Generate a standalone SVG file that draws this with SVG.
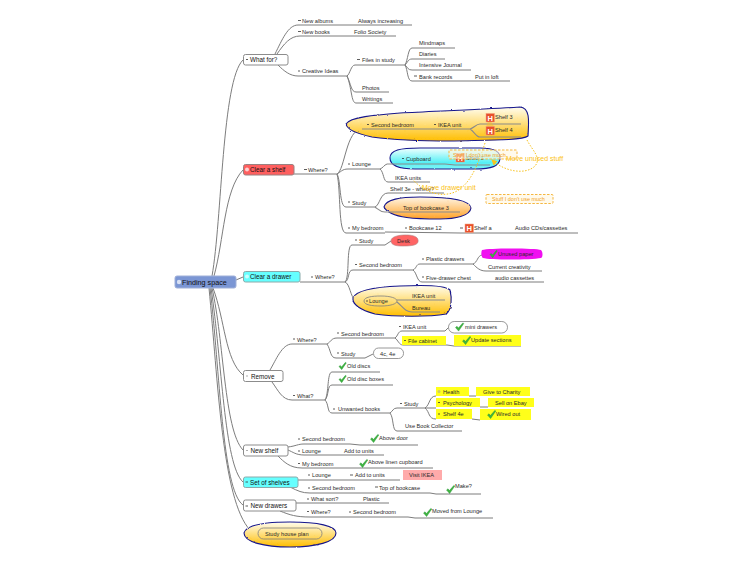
<svg xmlns="http://www.w3.org/2000/svg" width="750" height="563" viewBox="0 0 750 563">
<style>
text{font-family:"Liberation Sans",Arial,sans-serif;font-size:5.65px;fill:#2a2a2a}
.b{font-size:6.3px;fill:#111}
.r{font-size:7.2px;fill:#111}
.g{font-size:7px;fill:#fbbf14}
.o{font-size:5.5px;fill:#f2a31e}
.c path,.c line{fill:none;stroke:#7d7d7d;stroke-width:1}
path.k{fill:none;stroke:#8a8a8a;stroke-width:1.1}
.box{stroke:#8c8c8c;stroke-width:1}
.w{fill:#fff}
.y{fill:#ffff1a}
.bl{stroke:#16168c;stroke-width:1.1;filter:url(#wob)}
.ov{fill:none;stroke:#7f7f7f;stroke-width:.8}
.d{stroke:#333;stroke-width:.8}
.dot{fill:none;stroke:#f7c21e;stroke-width:1;stroke-dasharray:1.5 1.5}
.ds{fill:#fff6e0;fill-opacity:.6;stroke:#f5b740;stroke-width:1;stroke-dasharray:2.5 1.5}
</style>
<defs>
<filter id="wob" x="-5%" y="-15%" width="110%" height="130%"><feTurbulence type="fractalNoise" baseFrequency=".3" numOctaves="1" seed="4"/><feDisplacementMap in="SourceGraphic" scale="2.2" xChannelSelector="R" yChannelSelector="G"/></filter>
<linearGradient id="gy" x1="0" y1="0" x2="0" y2="1"><stop offset="0" stop-color="#fffdf0"/><stop offset="1" stop-color="#ffbe00"/></linearGradient>
<linearGradient id="go" x1="0" y1="0" x2="0" y2="1"><stop offset="0" stop-color="#fff6e6"/><stop offset="1" stop-color="#ffa228"/></linearGradient>
<linearGradient id="gc" x1="0" y1="0" x2="0" y2="1"><stop offset="0" stop-color="#f2ffff"/><stop offset=".7" stop-color="#55f0f5"/><stop offset="1" stop-color="#80f5f5"/></linearGradient>
<symbol id="chk" viewBox="0 0 9 9" overflow="visible"><path d="M.5 5 L2 3.8 L3.4 5.6 L7.8 .4 L8.8 1 L3.6 8.6 Z" fill="#3fb53f" stroke="#1f8a2f" stroke-width=".4"/></symbol>
<g id="hic"><rect width="8.5" height="8.5" fill="#e8502a" stroke="#f4a080" stroke-width=".5"/><text x="4.25" y="7" text-anchor="middle" style="font-size:7.5px;font-weight:bold;fill:#fff">H</text></g>
<marker id="ah" markerWidth="10" markerHeight="10" refX="5" refY="3" orient="auto"><path d="M0 0L6 3L0 6Z" fill="#f7c21e"/></marker>
</defs>

<g id="connectors" class="c">
<path d="M212 276C222 220 222 80 243 60"/>
<path d="M214 276C224 240 224 190 243 170"/>
<path d="M236 280L243 277"/>
<path d="M213 288C225 320 225 360 243 375"/>
<path d="M212 288C224 340 224 430 243 450"/>
<path d="M211 288C222 360 224 465 243 482"/>
<path d="M210 288C220 370 222 490 243 505"/>
<path d="M209 288C218 380 222 500 250 530"/>

<path d="M275 54C282 40 288 25 298 25H412"/>
<path d="M277 54C284 44 290 36 300 36H396"/>
<path d="M278 65C284 71 290 76 298 76H347"/>
<path d="M347 76C350 74 351 65 355 65H405"/>
<path d="M347 76C351 84 351 92 356 92H389"/>
<path d="M347 76C352 88 351 103 356 103H393"/>
<path d="M405 65C408 60 408 48 412 48H455"/>
<path d="M405 65C408 62 408 59 412 59H445"/>
<path d="M405 65C408 68 408 70 412 70H471"/>
<path d="M405 65C408 70 407 81 412 81H510"/>

<path d="M294 174H337"/>
<path d="M337 174C345 170 346 129 362 129"/>
<path d="M337 174C341 172 342 169 348 169H380"/>
<path d="M337 174C341 180 339 207 346 207H375"/>
<path d="M337 174C341 190 338 233 346 233H385"/>
<path d="M385 232L460 233H578"/>
<path d="M380 169C384 172 383 182 388 182H430"/>
<path d="M375 207C380 205 380 193 388 193H444"/>
<path d="M380 169C383 168 384 165 387 164"/>

<path d="M300 282H345"/>
<path d="M345 282C350 278 346 245 352 245H385L391 241"/>
<path d="M345 282C350 280 347 270 353 270H413"/>
<path d="M345 282C350 284 350 296 356 302"/>
<path d="M413 270C417 268 416 264 420 264H473C478 262 477 256 482 255"/>
<path d="M473 264C477 268 480 271 486 271H542"/>
<path d="M413 270C417 273 417 282 422 282H544"/>

<path d="M270 370C276 360 282 344 292 344H327"/>
<path d="M272 382C278 390 282 400 292 400H325"/>
<path d="M327 344C331 342 331 338 337 338H395"/>
<path d="M327 344C331 350 330 358 336 358H365L373 354"/>
<path d="M325 400C329 394 327 372 332 372H380"/>
<path d="M325 400C329 396 327 385 332 385H393"/>
<path d="M325 400C329 404 327 413 332 413H390"/>
<path d="M395 338C398 336 398 331 402 331H445L449 327"/>
<path d="M395 338C398 340 399 345 403 345H447L454 346H521"/>
<path d="M390 413C393 411 393 408 397 408H425"/>
<path d="M390 413C394 418 392 431 397 431H462"/>
<path d="M425 408C430 405 429 396 436 396"/>
<path d="M425 408H436"/>
<path d="M425 408C430 412 428 419 436 419"/>
<path d="M469 396H476"/><path d="M480 407H488"/><path d="M472 419L480 420"/>

<path d="M288 447C296 446 298 444 304 444H350L360 445H418"/>
<path d="M288 450C293 452 296 455 304 455H384"/>
<path d="M278 456C284 462 290 468 302 468H433"/>
<path d="M298 480H400"/>
<path d="M290 487C298 491 302 493 310 493H430L436 494H481"/>
<path d="M296 503H389"/>
<path d="M280 511C290 515 296 517 310 517H408L415 518H493"/>
</g>

<g id="node-root"><rect x="175" y="276" width="61" height="12" rx="2" fill="#7b96d4" stroke="#a0b0d8"/><circle cx="179" cy="282" r="2.2" fill="#d8e0f4"/><text class="r" x="182" y="284.500">Finding space</text></g>
<g id="node-whatfor"><rect class="box w" x="243.500" y="54.500" width="44.500" height="10.500" rx="2"/><line class="d" x1="246" y1="59.500" x2="248" y2="59.500"/><text class="b" x="250" y="62">What for?</text></g>
<g id="node-albums"><line class="d" x1="298" y1="20.500" x2="301" y2="20.500"/><text x="302" y="22.500">New albums</text><text x="358" y="22.500">Always increasing</text></g>
<g id="node-books"><line class="d" x1="298" y1="31.500" x2="301" y2="31.500"/><text x="302" y="33.500">New books</text><text x="354" y="33.500">Folio Society</text></g>
<g id="node-ideas"><line class="d" x1="298" y1="71" x2="300" y2="71"/><text x="302" y="73">Creative Ideas</text></g>
<g id="node-files"><line class="d" x1="357" y1="59.500" x2="360" y2="59.500"/><text x="362" y="62">Files in study</text></g>
<g id="node-photos"><text x="362" y="89.500">Photos</text></g>
<g id="node-writings"><text x="362" y="101">Writings</text></g>
<g id="node-mindmaps"><text x="419" y="45">Mindmaps</text></g>
<g id="node-diaries"><text x="419" y="56">Diaries</text></g>
<g id="node-journal"><text x="419" y="67">Intensive Journal</text></g>
<g id="node-bank"><line class="d" x1="414" y1="76" x2="417" y2="76"/><text x="419" y="78.500">Bank records</text><text x="475" y="78.500">Put in loft</text></g>

<g id="node-shelf"><rect x="243.500" y="164.500" width="50.500" height="10.500" rx="2" fill="#ff5f5f" stroke="#9a8080"/><circle cx="247" cy="169.500" r="2" fill="#ffd0d0"/><text class="b" x="250" y="172">Clear a shelf</text></g>
<g id="node-where1"><line class="d" x1="304" y1="169.500" x2="307" y2="169.500"/><text x="308" y="171.500">Where?</text></g>

<g id="blob-second">
<path class="bl" fill="url(#gy)" d="M346 124C350 117 375 115 400 113C440 111 490 109 520 107C530 108 529 120 528 136C522 141 480 140 450 141C420 141 395 140 372 137C358 134 347 130 346 124Z"/>
<path class="k" d="M362 129H470M470 129C474 128 476 124 480 124H521M470 129C474 131 476 137 480 137H521"/>
<line class="d" x1="367" y1="124.500" x2="369" y2="124.500"/><text x="371" y="126.500">Second bedroom</text>
<line class="d" x1="434" y1="124.500" x2="436" y2="124.500"/><text x="438" y="126.500">IKEA unit</text>
<path d="M489 118L496 130L484 134Z" fill="#f5bd2a" fill-opacity=".5"/>
<use href="#hic" x="486" y="113.500"/><text x="495" y="119">Shelf 3</text>
<use href="#hic" x="486" y="126.500"/><text x="495" y="132">Shelf 4</text>
</g>
<g id="node-lounge"><line class="d" x1="348" y1="164" x2="350" y2="164"/><text x="352" y="166">Lounge</text></g>
<g id="blob-cupboard">
<path class="bl" fill="url(#gc)" d="M390 158C390 150 400 148 420 148H480C495 148 501 152 500 159C499 166 492 169 475 169H415C398 169 390 165 390 158Z"/>
<path class="k" d="M387 164H445L455 165H490"/>
<line class="d" x1="402" y1="158.500" x2="404" y2="158.500"/><text x="406" y="160.500">Cupboard</text>
<use href="#hic" x="456" y="153.500"/><text x="466" y="160">Shelf 1</text>
</g>
<g id="node-ikeaunits"><text x="395" y="179.500">IKEA units</text></g>
<g id="node-study"><line class="d" x1="348" y1="202" x2="350" y2="202"/><text x="352" y="204.500">Study</text></g>
<g id="node-3e"><text x="390" y="190.500">Shelf 3e - where?</text></g>
<g id="blob-top">
<path class="bl" fill="url(#go)" d="M384 207C386 199 400 197 420 197C450 197 470 200 471 208C470 216 455 219 440 219C420 219 390 219 384 207Z"/>
<path class="k" d="M375 207C378 209 380 212 385 212H460"/>
<text x="403" y="209.500">Top of bookcase 3</text>
</g>
<g id="node-mybed"><line class="d" x1="348" y1="228" x2="350" y2="228"/><text x="352" y="230">My bedroom</text><line class="d" x1="405" y1="228" x2="407" y2="228"/><text x="409" y="230">Bookcase 12</text><line class="d" x1="460" y1="228" x2="463" y2="228"/><use href="#hic" x="465" y="224"/><text x="474" y="229.500">Shelf a</text><text x="515" y="230">Audio CDs/cassettes</text></g>

<g id="callouts">
<path class="dot" d="M527 140C532 150 542 158 535 166C526 175 505 172 492 160" marker-end="url(#ah)"/>
<path class="dot" d="M485 143C478 165 470 185 455 192C440 198 425 192 413 180"/>
<rect class="ds" x="449" y="150" width="68" height="9" rx="1"/><text class="o" x="453" y="156.500">Stuff I don't use much</text>
<rect class="ds" x="486" y="194.500" width="67" height="9" rx="1"/><text class="o" x="492" y="201">Stuff I don't use much</text>
<text class="g" x="506" y="160.500">Move unused stuff</text>
<text class="g" x="422" y="190">Move drawer unit</text>
</g>

<g id="node-drawer"><rect x="243.500" y="271.500" width="56.500" height="10.500" rx="2" fill="#66ffff" stroke="#8caaaa"/><circle cx="247" cy="276.500" r="2" fill="#c8ffff"/><text class="b" x="250" y="279">Clear a drawer</text></g>
<g id="node-where2"><line class="d" x1="311" y1="277" x2="313" y2="277"/><text x="315" y="279">Where?</text></g>
<g id="node-study2"><line class="d" x1="355" y1="240" x2="357" y2="240"/><text x="359" y="243">Study</text></g>
<g id="node-desk"><path d="M391 241C391 236 400 235 406 235C414 235 419 237 418 242C417 246 408 246 402 246C396 246 391 245 391 241Z" fill="#ff6464" stroke="#b08080" stroke-width=".6"/><text x="397" y="242.500">Desk</text></g>
<g id="node-sb2"><line class="d" x1="355" y1="264.500" x2="357" y2="264.500"/><text x="359" y="267">Second bedroom</text></g>
<g id="node-plastic"><line class="d" x1="422" y1="259" x2="424" y2="259"/><text x="426" y="261">Plastic drawers</text></g>
<g id="node-five"><line class="d" x1="422" y1="277" x2="424" y2="277"/><text x="426" y="279.500">Five-drawer chest</text><text x="495" y="279.500">audio cassettes</text></g>
<g id="node-unused"><path d="M482 250C490 248 535 248 541 250C543 252 543 257 541 258C530 260 490 260 483 258C481 256 481 252 482 250Z" fill="#f010f0"/><use href="#chk" x="489" y="250" width="9" height="8"/><text x="498" y="255.500">Unused paper</text></g>
<g id="node-current"><text x="488" y="268.500">Current creativity</text></g>
<g id="blob-lounge">
<path class="bl" fill="url(#gy)" d="M353 298C356 290 375 287 400 286C420 285 445 285 450 290C452 298 452 310 446 314C430 317 395 317 375 314C360 310 352 304 353 298Z"/>
<path class="ov" d="M364 301C364 297 372 296 381 296C390 296 397 298 397 301C397 304 390 306 381 306C372 306 364 305 364 301Z"/>
<path class="k" d="M397 300H445M397 302C403 307 405 312 412 312H440"/>
<line class="d" x1="366" y1="301" x2="368" y2="301"/><text x="369" y="303">Lounge</text>
<text x="412" y="298">IKEA unit</text><text x="412" y="309.500">Bureau</text>
</g>

<g id="node-remove"><rect class="box w" x="243.500" y="370.500" width="39.500" height="11" rx="2"/><line class="d" x1="246" y1="376" x2="248" y2="376" opacity=".5"/><text class="b" x="251" y="378.500">Remove</text></g>
<g id="node-where3"><line class="d" x1="293" y1="339" x2="295" y2="339"/><text x="297" y="341.500">Where?</text></g>
<g id="node-sb3"><line class="d" x1="337" y1="333" x2="339" y2="333"/><text x="341" y="335.500">Second bedroom</text></g>
<g id="node-study3"><line class="d" x1="337" y1="353" x2="339" y2="353"/><text x="341" y="355.500">Study</text></g>
<g id="node-4c"><rect x="373.500" y="348" width="30" height="10.500" rx="5" class="w" stroke="#7f7f7f" stroke-width=".8"/><text x="380" y="355.500">4c, 4e</text></g>
<g id="node-olddiscs"><use href="#chk" x="338" y="362" width="9" height="8"/><text x="347" y="367.500">Old discs</text></g>
<g id="node-oldboxes"><use href="#chk" x="338" y="375" width="9" height="8"/><text x="347" y="380.500">Old disc boxes</text></g>
<g id="node-what"><line class="d" x1="293" y1="395.500" x2="295" y2="395.500"/><text x="297" y="398">What?</text></g>
<g id="node-unwanted"><line class="d" x1="333" y1="409" x2="335" y2="409"/><text x="338" y="411">Unwanted books</text></g>
<g id="node-ikea3"><line class="d" x1="399" y1="326.500" x2="401" y2="326.500"/><text x="403" y="329">IKEA unit</text></g>
<g id="node-mini"><rect x="448.500" y="321.500" width="59" height="11.500" rx="5.700" class="w" stroke="#7f7f7f" stroke-width=".8"/><use href="#chk" x="455" y="322.500" width="9" height="9"/><text x="465" y="328.500">mini drawers</text></g>
<g id="node-file"><rect class="y" x="402" y="336" width="44" height="9"/><line class="d" x1="404" y1="340.500" x2="406" y2="340.500"/><text x="408" y="342.500">File cabinet</text></g>
<g id="node-update"><rect class="y" x="454" y="335" width="67" height="11"/><use href="#chk" x="462" y="336" width="9" height="9"/><text x="471" y="342">Update sections</text></g>
<g id="node-study4"><line class="d" x1="400" y1="403.500" x2="402" y2="403.500"/><text x="404" y="405.500">Study</text></g>
<g id="node-health"><rect class="y" x="436" y="387" width="33" height="9"/><circle cx="439" cy="391.500" r="1.500" fill="#cccc66"/><text x="443" y="393.500">Health</text></g>
<g id="node-give"><rect class="y" x="476" y="387" width="54" height="9"/><text x="483" y="393.500">Give to Charity</text></g>
<g id="node-psy"><rect class="y" x="436" y="398" width="44" height="9"/><line class="d" x1="438" y1="402.500" x2="440" y2="402.500"/><text x="443" y="404.500">Psychology</text></g>
<g id="node-sell"><rect class="y" x="488" y="398" width="46" height="9"/><text x="495" y="404.500">Sell on Ebay</text></g>
<g id="node-4e"><rect class="y" x="436" y="409" width="36" height="10"/><line class="d" x1="438" y1="414" x2="440" y2="414"/><text x="443" y="416">Shelf 4e</text></g>
<g id="node-wired"><rect class="y" x="480" y="409" width="51" height="11"/><use href="#chk" x="487" y="410" width="9" height="9"/><text x="496" y="415.500">Wired out</text></g>
<g id="node-collector"><text x="405" y="428">Use Book Collector</text></g>

<g id="node-newshelf"><rect class="box w" x="243.500" y="445" width="44.500" height="11" rx="2"/><line class="d" x1="246" y1="450.500" x2="248" y2="450.500" opacity=".5"/><text class="b" x="250.500" y="453">New shelf</text></g>
<g id="node-n1"><line class="d" x1="298" y1="439" x2="300" y2="439"/><text x="302" y="441">Second bedroom</text><use href="#chk" x="370" y="434" width="9" height="9"/><text x="379" y="440">Above door</text></g>
<g id="node-n2"><line class="d" x1="298" y1="451" x2="300" y2="451"/><text x="302" y="453">Lounge</text><text x="344" y="453">Add to units</text></g>
<g id="node-n3"><line class="d" x1="298" y1="463.500" x2="300" y2="463.500"/><text x="302" y="465.500">My bedroom</text><use href="#chk" x="359" y="459" width="9" height="9"/><text x="368" y="464">Above linen cupboard</text></g>
<g id="node-set"><rect x="243.500" y="477" width="54.500" height="10.500" rx="2" fill="#66ffff" stroke="#8caaaa"/><line class="d" x1="245.500" y1="482" x2="248" y2="482"/><text class="b" x="250" y="484.500">Set of shelves</text></g>
<g id="node-s1"><line class="d" x1="308" y1="475" x2="310" y2="475"/><text x="312" y="477">Lounge</text><line class="d" x1="350" y1="475" x2="353" y2="475"/><text x="355" y="477">Add to units</text></g>
<g id="node-visit"><rect x="403" y="470" width="39" height="10" fill="#ffaaaa"/><text x="409" y="477">Visit IKEA</text></g>
<g id="node-s2"><line class="d" x1="308" y1="488" x2="310" y2="488"/><text x="312" y="490">Second bedroom</text><line class="d" x1="375" y1="487" x2="378" y2="487"/><text x="379" y="490">Top of bookcase</text><use href="#chk" x="446" y="485" width="9" height="9"/><text x="455" y="488">Make?</text></g>
<g id="node-newdrawers"><rect class="box w" x="243.500" y="500" width="52.500" height="11" rx="2"/><line class="d" x1="245.500" y1="506" x2="248" y2="506"/><text class="b" x="250.500" y="508">New drawers</text></g>
<g id="node-d1"><line class="d" x1="307" y1="499" x2="309" y2="499"/><text x="311" y="501">What sort?</text><text x="363" y="501">Plastic</text></g>
<g id="node-d2"><line class="d" x1="307" y1="511.500" x2="309" y2="511.500"/><text x="311" y="514">Where?</text><line class="d" x1="349" y1="512" x2="351" y2="512"/><text x="353" y="514">Second bedroom</text><use href="#chk" x="423" y="508" width="9" height="9"/><text x="432" y="513">Moved from Lounge</text></g>
<g id="blob-plan">
<path class="bl" fill="url(#gy)" d="M244 533C246 526 262 522 290 522C318 522 336 526 336 533C336 542 316 547 290 547C264 547 244 542 244 533Z"/>
<rect x="258" y="528" width="64" height="11" rx="5.500" fill="none" stroke="#7f7f7f" stroke-width=".8"/>
<text x="265" y="536">Study house plan</text>
</g>
</svg>
